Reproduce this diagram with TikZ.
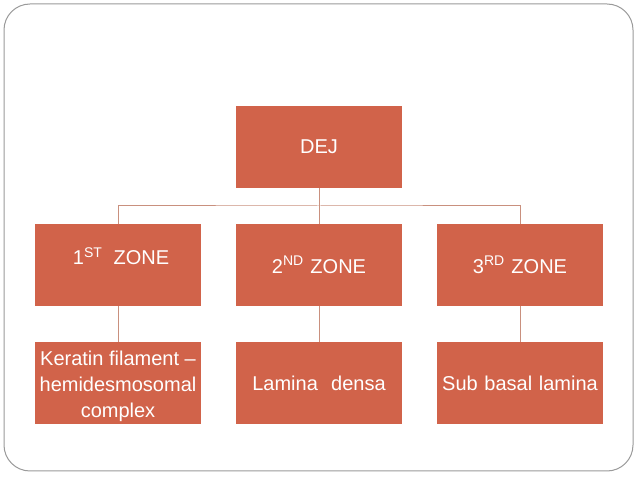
\documentclass[tikz,border=0pt]{standalone}
\usepackage{fontspec}
\setmainfont{Liberation Sans}
\definecolor{boxfill}{HTML}{D1634A}
\definecolor{linkc}{HTML}{C9907E}
\definecolor{frame}{HTML}{9A9A9A}
\begin{document}
\begin{tikzpicture}[x=1pt,y=-1pt,
  orgbox/.style={draw=none,fill=boxfill,minimum width=166pt,minimum height=82pt,inner sep=0pt,
    text=white,font=\fontsize{20}{26}\selectfont,align=center,text width=166pt},
  link/.style={draw=linkc,line width=1pt}]
\useasboundingbox (0,0) rectangle (638,478);
\draw[frame,line width=1pt,rounded corners=26pt] (4,4) rectangle (633,471);
\node[orgbox] (dej) at (319,147) {DEJ};
\node[orgbox] (z1) at (118,265) {};
\node[text=white,font=\fontsize{20}{26}\selectfont,inner sep=0pt] (z1t) at (121,256) {1\textsuperscript{ST}\ \ ZONE};
\node[orgbox] (z2) at (319,265) {2\textsuperscript{ND} ZONE};
\node[orgbox] (z3) at (520,265) {3\textsuperscript{RD} ZONE};
\node[orgbox] (k1) at (118,383) {};
\node[text=white,font=\fontsize{20}{26}\selectfont,align=center,inner sep=0pt] (k1t) at (118,386) {Keratin filament –\\hemidesmosomal\\complex};
\node[orgbox] (k2) at (319,383) {Lamina\ \ densa};
\node[orgbox] (k3) at (520,383) {Sub basal lamina};
\coordinate (bus) at (319,206);
\draw[link] (dej.south) -- (bus);
\draw[link] (z1.north) |- (bus) -| (z3.north);
\draw[link] (bus) -- (z2.north);
\draw[link] (z1.south) -- (k1.north);
\draw[link] (z2.south) -- (k2.north);
\draw[link] (z3.south) -- (k3.north);
\end{tikzpicture}
\end{document}
